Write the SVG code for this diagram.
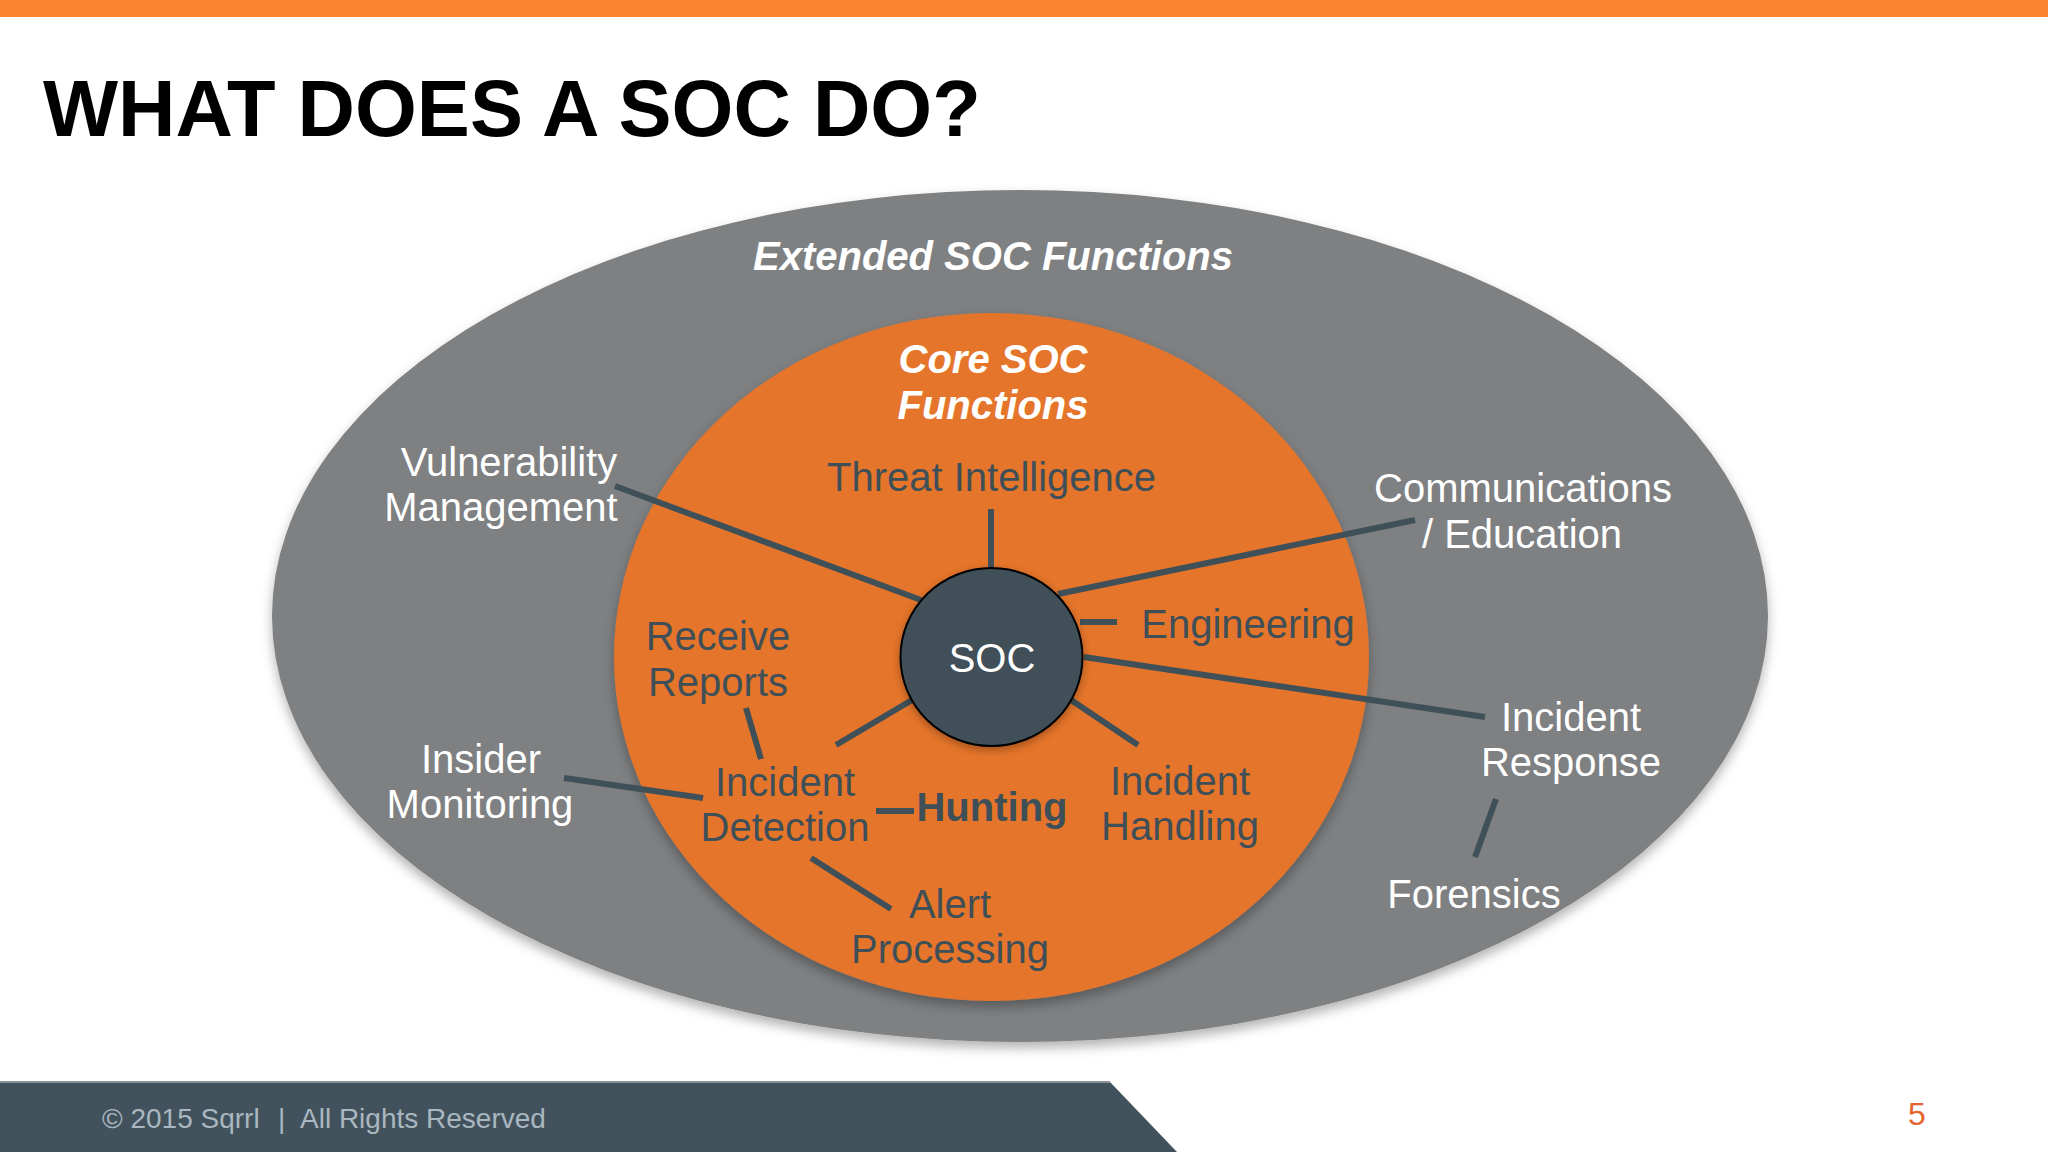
<svg xmlns="http://www.w3.org/2000/svg" width="2048" height="1152" viewBox="0 0 2048 1152">
<defs>
<filter id="sh" x="-10%" y="-10%" width="120%" height="125%"><feDropShadow dx="0" dy="6" stdDeviation="6" flood-color="#000" flood-opacity="0.3"/></filter>
<filter id="sh2" x="-10%" y="-10%" width="120%" height="125%"><feDropShadow dx="0" dy="3" stdDeviation="4" flood-color="#000" flood-opacity="0.3"/></filter>
</defs>
<style>
text{font-family:"Liberation Sans",Arial,sans-serif}
.w{font-size:40px;fill:#fff;text-anchor:middle}
.d{font-size:40px;fill:#3f4f58;text-anchor:middle}
.h{font-size:40px;fill:#fff;text-anchor:middle;font-weight:bold;font-style:italic}
.c line{stroke:#3f5058;stroke-width:6}
</style>
<rect width="2048" height="1152" fill="#fff"/>
<rect width="2048" height="17" fill="#f98330"/>
<text id="title" x="43" y="136" font-size="79.500" font-weight="bold" fill="#000">WHAT DOES A SOC DO?</text>
<g id="outer"><ellipse cx="1020" cy="616" rx="748" ry="426" fill="#7e8082" filter="url(#sh)"/><text class="h" x="993" y="270">Extended SOC Functions</text></g>
<g id="core"><ellipse cx="991.500" cy="657" rx="377.500" ry="344" fill="#e5742b" filter="url(#sh)"/><text class="h" x="993" y="373">Core SOC</text><text class="h" x="993" y="419">Functions</text></g>
<g class="c" id="connectors">
<line x1="615" y1="486" x2="921" y2="600"/>
<line x1="991" y1="509" x2="991" y2="568"/>
<line x1="1415" y1="520" x2="1058" y2="594"/>
<line x1="1117" y1="622" x2="1080" y2="622"/>
<line x1="1084" y1="657" x2="1485" y2="717"/>
<line x1="1496" y1="799" x2="1475" y2="857"/>
<line x1="1071" y1="700" x2="1138" y2="745"/>
<line x1="912" y1="700" x2="836" y2="745"/>
<line x1="746" y1="708" x2="761" y2="759"/>
<line x1="564" y1="778" x2="703" y2="798"/>
<line x1="876" y1="811" x2="914" y2="811"/>
<line x1="811" y1="858" x2="891" y2="909"/>
</g>
<g id="soc"><ellipse cx="991.500" cy="657" rx="91" ry="89" fill="#3f5058" stroke="#000" stroke-width="2" filter="url(#sh2)"/><text class="w" x="992" y="672">SOC</text></g>
<g id="vuln"><text class="w" x="509" y="476">Vulnerability</text><text class="w" x="501" y="521">Management</text></g>
<g id="threat"><text class="d" x="991.500" y="491">Threat Intelligence</text></g>
<g id="comm"><text class="w" x="1523" y="502">Communications</text><text class="w" x="1522" y="548">/ Education</text></g>
<g id="eng"><text class="d" x="1248" y="638">Engineering</text></g>
<g id="receive"><text class="d" x="718" y="650">Receive</text><text class="d" x="718" y="696">Reports</text></g>
<g id="insider"><text class="w" x="481" y="773">Insider</text><text class="w" x="480" y="818">Monitoring</text></g>
<g id="detect"><text class="d" x="785" y="796">Incident</text><text class="d" x="785" y="841">Detection</text></g>
<g id="hunting"><text class="d" x="992" y="821" font-weight="bold">Hunting</text></g>
<g id="handling"><text class="d" x="1180" y="795">Incident</text><text class="d" x="1180" y="840">Handling</text></g>
<g id="alert"><text class="d" x="950" y="918">Alert</text><text class="d" x="950" y="963">Processing</text></g>
<g id="response"><text class="w" x="1571" y="731">Incident</text><text class="w" x="1571" y="776">Response</text></g>
<g id="forensics"><text class="w" x="1474" y="908">Forensics</text></g>
<path d="M0 1082H1110L1177 1152H0Z" fill="#42525c"/>
<path d="M0 1082H1110" stroke="#8a9298" stroke-width="2" fill="none"/>
<text x="102" y="1128" font-size="28" fill="#a9b7c0">© 2015 Sqrrl<tspan x="278">|</tspan><tspan x="300">All Rights Reserved</tspan></text>
<text x="1917" y="1125" font-size="32" fill="#e5642b" text-anchor="middle">5</text>
</svg>
